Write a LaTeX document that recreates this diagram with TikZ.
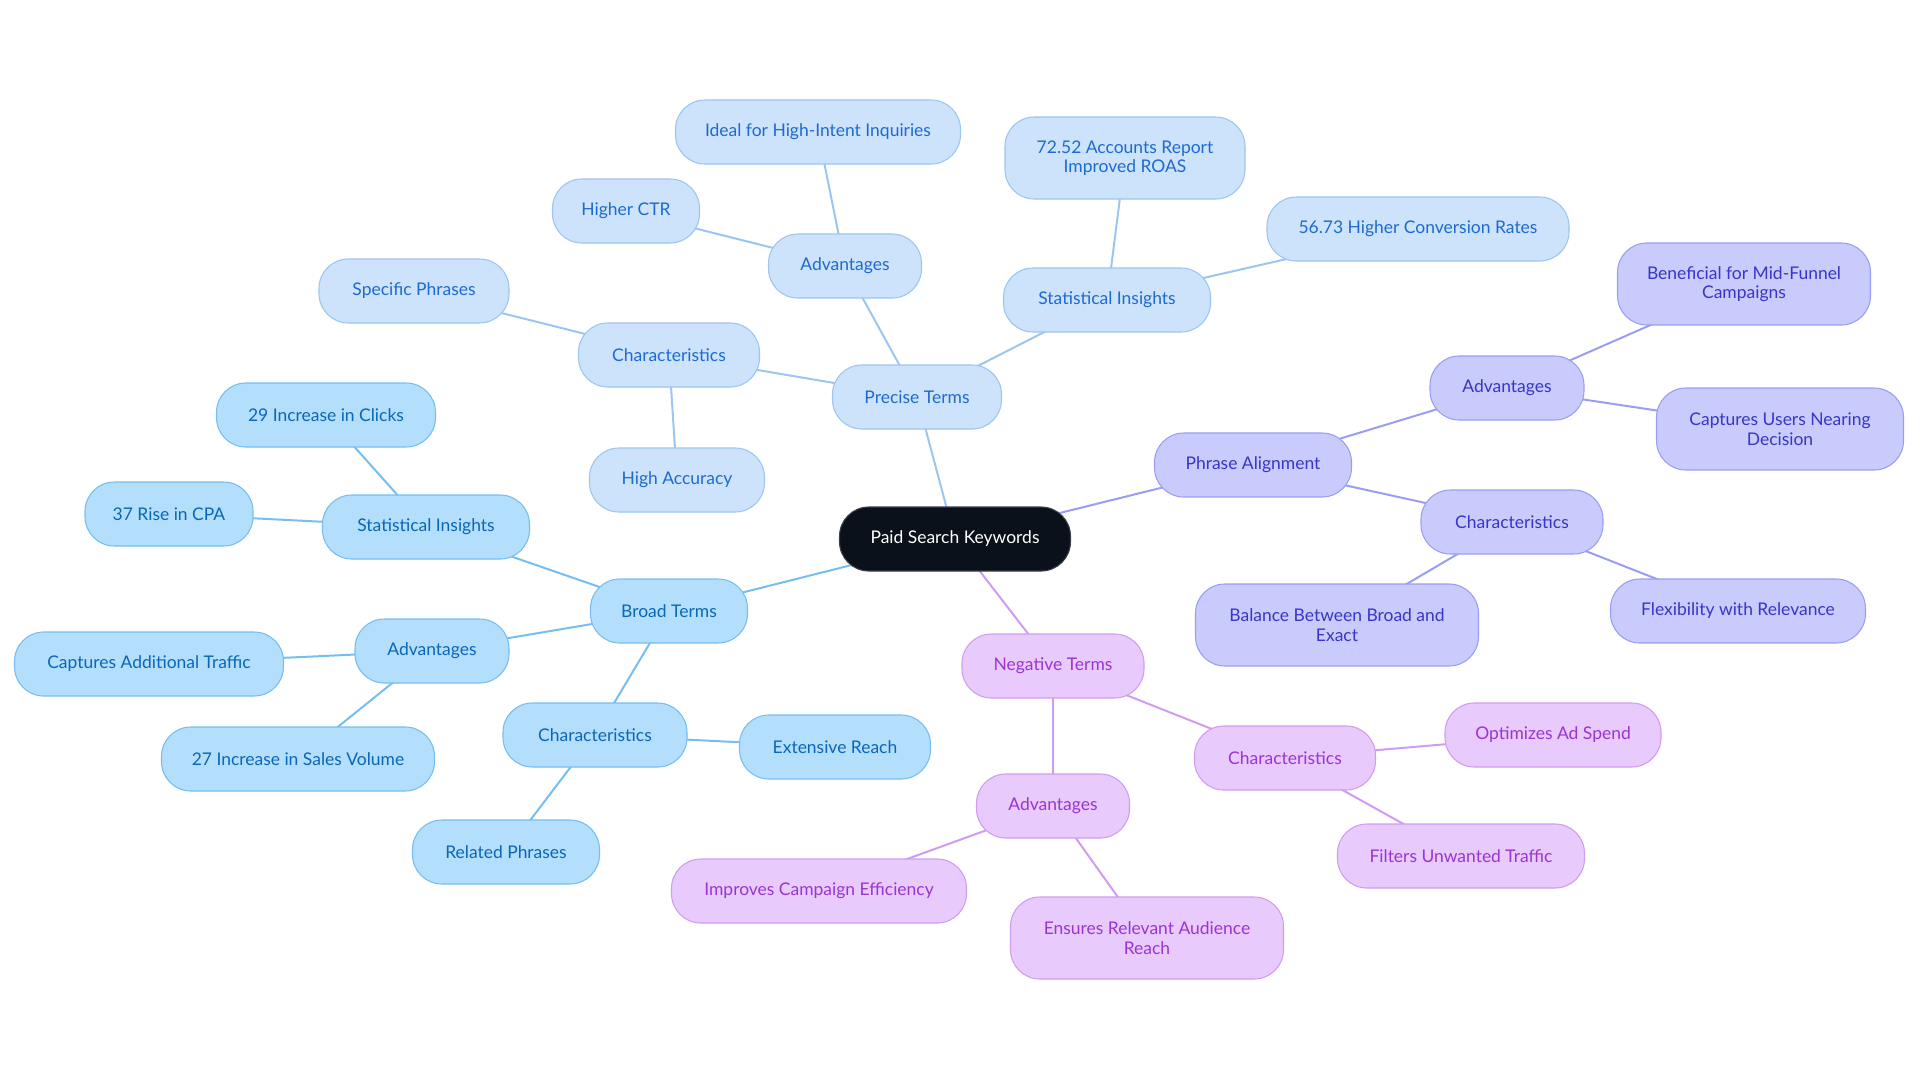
\documentclass[tikz,border=0pt]{standalone}
\usepackage{fontspec}
\setmainfont{Lato}
\usetikzlibrary{backgrounds}
\definecolor{rootfill}{HTML}{0B111A}
\definecolor{rootline}{HTML}{3A4048}
\definecolor{pfill}{HTML}{CDE3FB}
\definecolor{pline}{HTML}{9CC5F0}
\definecolor{ptext}{HTML}{1E6AD0}
\definecolor{bfill}{HTML}{B3DFFD}
\definecolor{bline}{HTML}{76BEF0}
\definecolor{btext}{HTML}{0A66B8}
\definecolor{afill}{HTML}{C8CBFC}
\definecolor{aline}{HTML}{9A9EF2}
\definecolor{atext}{HTML}{3835C8}
\definecolor{nfill}{HTML}{E8CAFC}
\definecolor{nline}{HTML}{D09CF2}
\definecolor{ntext}{HTML}{9A34D4}
\tikzset{
  base/.style={rounded corners=22pt, line width=0.8pt, align=center, inner sep=2pt,
    font=\fontsize{13.1}{14.7}\selectfont, minimum height=48pt},
  tall/.style={minimum height=61.5pt},
  rootnode/.style={base, fill=rootfill, draw=rootline, text=white},
  pnode/.style={base, fill=pfill, draw=pline, text=ptext},
  bnode/.style={base, fill=bfill, draw=bline, text=btext},
  anode/.style={base, fill=afill, draw=aline, text=atext},
  nnode/.style={base, fill=nfill, draw=nline, text=ntext},
  pedge/.style={draw=pline, line width=1.5pt},
  bedge/.style={draw=bline, line width=1.5pt},
  aedge/.style={draw=aline, line width=1.5pt},
  nedge/.style={draw=nline, line width=1.5pt},
}
\begin{document}
\begin{tikzpicture}[x=0.75pt, y=-0.75pt]
\useasboundingbox (0,0) rectangle (1920,1083);
% root
\node[rootnode, minimum width=231*0.75pt] (root) at (955,539) {Paid Search Keywords};
% precise
\node[pnode, minimum width=169*0.75pt] (pt) at (917,397) {Precise Terms};
\node[pnode, minimum width=181*0.75pt] (pc) at (669,355) {Characteristics};
\node[pnode, minimum width=190*0.75pt] (pc1) at (414,291) {Specific Phrases};
\node[pnode, minimum width=175*0.75pt] (pc2) at (677,480) {High Accuracy};
\node[pnode, minimum width=153*0.75pt] (pa) at (845,266) {Advantages};
\node[pnode, minimum width=147*0.75pt] (pa1) at (626,211) {Higher CTR};
\node[pnode, minimum width=285*0.75pt] (pa2) at (818,132) {Ideal for High-Intent Inquiries};
\node[pnode, minimum width=207*0.75pt] (ps) at (1107,300) {Statistical Insights};
\node[pnode, tall, minimum width=240*0.75pt] (ps1) at (1125,158) {72.52 Accounts Report\\Improved ROAS};
\node[pnode, minimum width=302*0.75pt] (ps2) at (1418,229) {56.73 Higher Conversion Rates};
% phrase
\node[anode, minimum width=197*0.75pt] (ph) at (1253,465) {Phrase Alignment};
\node[anode, minimum width=154*0.75pt] (ha) at (1507,388) {Advantages};
\node[anode, tall, minimum width=253*0.75pt] (ha1) at (1744,284) {Beneficial for Mid-Funnel\\Campaigns};
\node[anode, tall, minimum width=247*0.75pt] (ha2) at (1780,429) {Captures Users Nearing\\Decision};
\node[anode, minimum width=182*0.75pt] (hc) at (1512,522) {Characteristics};
\node[anode, minimum width=255*0.75pt] (hc1) at (1738,611) {Flexibility with Relevance};
\node[anode, tall, minimum width=283*0.75pt] (hc2) at (1337,625) {Balance Between Broad and\\Exact};
% negative
\node[nnode, minimum width=182*0.75pt] (ng) at (1053,666) {Negative Terms};
\node[nnode, minimum width=181*0.75pt] (nc) at (1285,758) {Characteristics};
\node[nnode, minimum width=216*0.75pt] (nc1) at (1553,735) {Optimizes Ad Spend};
\node[nnode, minimum width=247*0.75pt] (nc2) at (1461,856) {Filters Unwanted Traffic};
\node[nnode, minimum width=153*0.75pt] (na) at (1053,806) {Advantages};
\node[nnode, minimum width=295*0.75pt] (na1) at (819,891) {Improves Campaign Efficiency};
\node[nnode, tall, minimum width=273*0.75pt] (na2) at (1147,938) {Ensures Relevant Audience\\Reach};
% broad
\node[bnode, minimum width=157*0.75pt] (bt) at (669,611) {Broad Terms};
\node[bnode, minimum width=207*0.75pt] (bs) at (426,527) {Statistical Insights};
\node[bnode, minimum width=219*0.75pt] (bs1) at (326,415) {29 Increase in Clicks};
\node[bnode, minimum width=168*0.75pt] (bs2) at (169,514) {37 Rise in CPA};
\node[bnode, minimum width=154*0.75pt] (ba) at (432,651) {Advantages};
\node[bnode, minimum width=269*0.75pt] (ba1) at (149,664) {Captures Additional Traffic};
\node[bnode, minimum width=273*0.75pt] (ba2) at (298,759) {27 Increase in Sales Volume};
\node[bnode, minimum width=184*0.75pt] (bc) at (595,735) {Characteristics};
\node[bnode, minimum width=191*0.75pt] (bc1) at (835,747) {Extensive Reach};
\node[bnode, minimum width=187*0.75pt] (bc2) at (506,852) {Related Phrases};
\begin{scope}[on background layer]
\draw[pedge] (root.center) -- (pt.center);
\draw[pedge] (pt.center) -- (pc.center); \draw[pedge] (pc.center) -- (pc1.center); \draw[pedge] (pc.center) -- (pc2.center);
\draw[pedge] (pt.center) -- (pa.center); \draw[pedge] (pa.center) -- (pa1.center); \draw[pedge] (pa.center) -- (pa2.center);
\draw[pedge] (pt.center) -- (ps.center); \draw[pedge] (ps.center) -- (ps1.center); \draw[pedge] (ps.center) -- (ps2.center);
\draw[aedge] (root.center) -- (ph.center);
\draw[aedge] (ph.center) -- (ha.center); \draw[aedge] (ha.center) -- (ha1.center); \draw[aedge] (ha.center) -- (ha2.center);
\draw[aedge] (ph.center) -- (hc.center); \draw[aedge] (hc.center) -- (hc1.center); \draw[aedge] (hc.center) -- (hc2.center);
\draw[nedge] (root.center) -- (ng.center);
\draw[nedge] (ng.center) -- (nc.center); \draw[nedge] (nc.center) -- (nc1.center); \draw[nedge] (nc.center) -- (nc2.center);
\draw[nedge] (ng.center) -- (na.center); \draw[nedge] (na.center) -- (na1.center); \draw[nedge] (na.center) -- (na2.center);
\draw[bedge] (root.center) -- (bt.center);
\draw[bedge] (bt.center) -- (bs.center); \draw[bedge] (bs.center) -- (bs1.center); \draw[bedge] (bs.center) -- (bs2.center);
\draw[bedge] (bt.center) -- (ba.center); \draw[bedge] (ba.center) -- (ba1.center); \draw[bedge] (ba.center) -- (ba2.center);
\draw[bedge] (bt.center) -- (bc.center); \draw[bedge] (bc.center) -- (bc1.center); \draw[bedge] (bc.center) -- (bc2.center);
\end{scope}
\end{tikzpicture}
\end{document}
